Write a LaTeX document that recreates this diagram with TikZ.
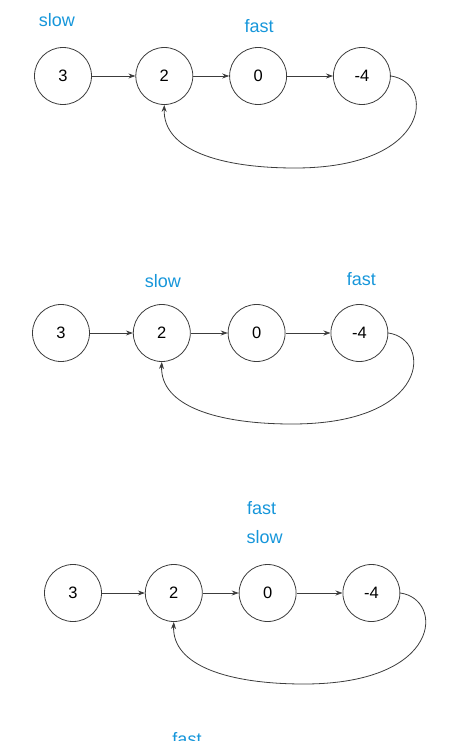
\documentclass[tikz,border=0pt]{standalone}
\usepackage{fontspec}
\setmainfont{Liberation Sans}
\usetikzlibrary{arrows.meta, positioning}
\definecolor{ptrblue}{RGB}{22,150,218}
\definecolor{edge}{RGB}{60,60,60}
\tikzset{
  lnode/.style = {draw=edge, circle, line width=0.8pt, minimum size=57pt,
                  inner sep=0pt, font=\fontsize{16.5}{18}\selectfont},
  ptr/.style   = {text=ptrblue, font=\fontsize{18}{20}\selectfont, inner sep=3pt},
  nx/.style    = {-{Stealth[length=7pt, width=5pt]}, line width=0.8pt, draw=edge},
}

\begin{document}
\begin{tikzpicture}[x=1pt, y=-1pt]
    \useasboundingbox (0,0) rectangle (474,741);
    % row 1: start
    \node[lnode] (a1) at (63,76) {3};
    \node[lnode, right=43.5pt of a1] (a2) {2};
    \node[lnode, right=36pt of a2] (a3) {0};
    \node[lnode, right=46pt of a3] (a4) {-4};
    \node[ptr, above=17pt of a1, xshift=-6pt] (as) {slow};
    \node[ptr, above=11pt of a3, xshift=1pt] (af) {fast};
    \draw[nx] (a1) -- (a2);
    \draw[nx] (a2) -- (a3);
    \draw[nx] (a3) -- (a4);
    \coordinate (alow) at (295,168);
    \draw[nx] (a4.east) .. controls (435,82) and (433,168) .. (alow)
      .. controls (220,168) and (163,150) .. (a2.south);
    % row 2: one step
    \node[lnode] (b1) at (61,333) {3};
    \node[lnode, right=43pt of b1] (b2) {2};
    \node[lnode, right=37pt of b2] (b3) {0};
    \node[lnode, right=45pt of b3] (b4) {-4};
    \node[ptr, above=13pt of b2, xshift=1pt] (bs) {slow};
    \node[ptr, above=15pt of b4, xshift=2pt] (bf) {fast};
    \draw[nx] (b1) -- (b2);
    \draw[nx] (b2) -- (b3);
    \draw[nx] (b3) -- (b4);
    \coordinate (blow) at (292,424);
    \draw[nx] (b4.east) .. controls (432,339) and (431,424) .. (blow)
      .. controls (217,424) and (160,406) .. (b2.south);
    % row 3: pointers meet
    \node[lnode] (c1) at (73,593) {3};
    \node[lnode, right=43pt of c1] (c2) {2};
    \node[lnode, right=36pt of c2] (c3) {0};
    \node[lnode, right=46pt of c3] (c4) {-4};
    \node[ptr, above=17pt of c3, xshift=-3pt] (cs) {slow};
    \node[ptr, above=10pt of cs, xshift=-3pt] (cf) {fast};
    \draw[nx] (c1) -- (c2);
    \draw[nx] (c2) -- (c3);
    \draw[nx] (c3) -- (c4);
    \coordinate (clow) at (304,684);
    \draw[nx] (c4.east) .. controls (444,599) and (443,684) .. (clow)
      .. controls (229,684) and (172,666) .. (c2.south);
    % next row, cut off
    \node[ptr] (df) at (187,739) {fast};
\end{tikzpicture}
\end{document}
